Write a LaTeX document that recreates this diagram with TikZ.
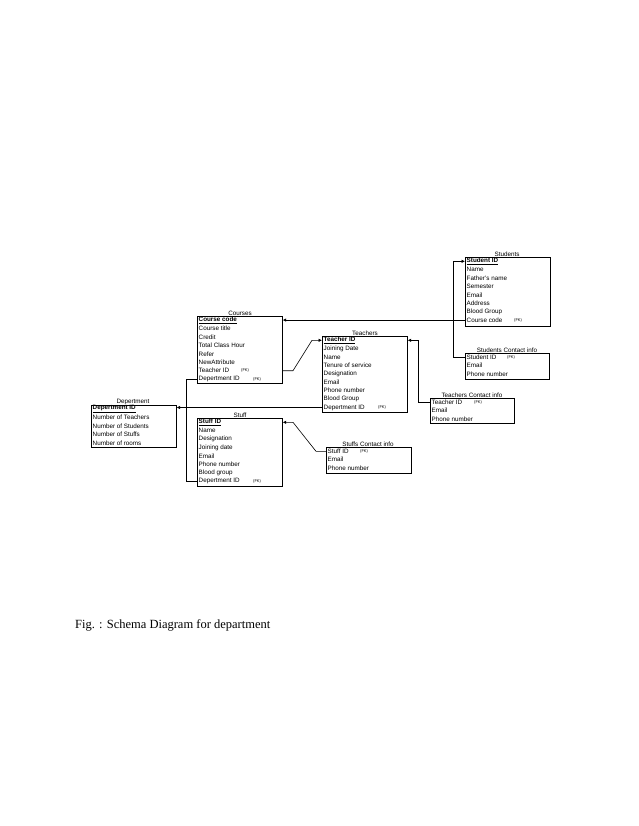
\documentclass[tikz,border=0pt]{standalone}
\usepackage{fontspec}
\setmainfont{Liberation Sans}
\newfontfamily\capfont{Liberation Serif}
\usetikzlibrary{arrows.meta}
\newcommand{\pk}[1]{\textbf{\underline{#1}}}
\tikzset{
  tbl/.style={draw, line width=0.7pt, anchor=north west, inner sep=0pt},
  ttl/.style={font=\fontsize{6.3}{7}\selectfont, anchor=south, inner sep=0.5pt},
  rw/.style={font=\fontsize{6.3}{7}\selectfont, anchor=west, inner sep=0pt},
  fk/.style={font=\fontsize{4}{4}\selectfont, anchor=west, inner sep=0pt},
  conn/.style={line width=0.6pt},
  arr/.style={conn, -{Latex[length=3.5pt,width=3.5pt]}},
}
\begin{document}
\begin{tikzpicture}[x=1pt,y=-1pt]
\useasboundingbox (0,0) rectangle (638,826);
% Students
\node[tbl, minimum width=85, minimum height=69] (S) at (465,257) {};
\node[ttl] (St) at (507,257.5) {Students};
\foreach \t [count=\i] in {\pk{Student ID},Name,Father's name,Semester,Email,Address,Blood Group,Course code}
  \node[rw] (S-\i) at (466.5,{257+4.3+8.4*(\i-1)}) {\t};
\node[fk] (S-fk) at (514,0 |- S-8) {(FK)};
% Students contact
\node[tbl, minimum width=84, minimum height=26] (SC) at (465,353) {};
\node[ttl] (SCt) at (507,353.5) {Students Contact info};
\foreach \t [count=\i] in {Student ID,Email,Phone number}
  \node[rw] (SC-\i) at (466.5,{353+4.3+8.4*(\i-1)}) {\t};
\node[fk] (SC-fk) at (507,0 |- SC-1) {(FK)};
% Courses
\node[tbl, minimum width=85, minimum height=67] (C) at (197,316) {};
\node[ttl] (Ct) at (240,316.5) {Courses};
\foreach \t [count=\i] in {\pk{Course code},Course title,Credit,Total Class Hour,Refer,NewAttribute,Teacher ID,Depertment ID}
  \node[rw] (C-\i) at (198.5,{316+4.3+8.4*(\i-1)}) {\t};
\node[fk] (C-fk1) at (241,0 |- C-7) {(FK)};
\node[fk] (C-fk2) at (253,0 |- C-8) {(FK)};
% Teachers
\node[tbl, minimum width=85, minimum height=76] (T) at (322,336) {};
\node[ttl] (Tt) at (365,336.5) {Teachers};
\foreach \t [count=\i] in {\pk{Teacher ID},Joining Date,Name,Tenure of service,Designation,Email,Phone number,Blood Group,Depertment ID}
  \node[rw] (T-\i) at (323.5,{336+4.3+8.4*(\i-1)}) {\t};
\node[fk] (T-fk) at (378,0 |- T-9) {(FK)};
% Teachers contact
\node[tbl, minimum width=84, minimum height=25] (TC) at (430,398) {};
\node[ttl] (TCt) at (472,398.5) {Teachers Contact info};
\foreach \t [count=\i] in {Teacher ID,Email,Phone number}
  \node[rw] (TC-\i) at (431.5,{398+4.3+8.4*(\i-1)}) {\t};
\node[fk] (TC-fk) at (474,0 |- TC-1) {(FK)};
% Department
\node[tbl, minimum width=85, minimum height=42] (D) at (91,405) {};
\node[ttl] (Dt) at (133,405.5) {Depertment};
\foreach \t [count=\i] in {\pk{Depertment ID},Number of Teachers,Number of Students,Number of Stuffs,Number of rooms}
  \node[rw] (D-\i) at (92.5,{405+4.3+8.4*(\i-1)}) {\t};
% Stuff
\node[tbl, minimum width=85, minimum height=68] (F) at (197,418) {};
\node[ttl] (Ft) at (240,418.5) {Stuff};
\foreach \t [count=\i] in {\pk{Stuff ID},Name,Designation,Joining date,Email,Phone number,Blood group,Depertment ID}
  \node[rw] (F-\i) at (198.5,{418+4.3+8.4*(\i-1)}) {\t};
\node[fk] (F-fk) at (253,0 |- F-8) {(FK)};
% Stuffs contact
\node[tbl, minimum width=85, minimum height=26] (FC) at (326,447) {};
\node[ttl] (FCt) at (368,447.5) {Stuffs Contact info};
\foreach \t [count=\i] in {Stuff ID,Email,Phone number}
  \node[rw] (FC-\i) at (327.5,{447+4.3+8.4*(\i-1)}) {\t};
\node[fk] (FC-fk) at (360,0 |- FC-1) {(FK)};
% connectors
\draw[arr] (S.west |- S-8) -- (C.east |- S-8);
\draw[arr] (SC.west |- SC-1) -- (453,0 |- SC-1) -- (453,0 |- S-1) -- (S.west |- S-1);
\draw[arr] (C.east |- C-7) -- (293,0 |- C-7) -- (312,0 |- T-1) -- (T.west |- T-1);
\draw[arr] (TC.west |- TC-1) -- (418,0 |- TC-1) -- (418,0 |- T-1) -- (T.east |- T-1);
\draw[arr] (T.west |- T-9) -- (D.east |- T-9);
\draw[conn] (C.west |- C-8) -- (186,0 |- C-8) -- (186,0 |- F-8) -- (F.west |- F-8);
\draw[arr] (FC.west |- FC-1) -- (316,0 |- FC-1) -- (293,0 |- F-1) -- (F.east |- F-1);
% caption
\node[anchor=west, font=\capfont\fontsize{12.5}{14}\selectfont, inner sep=0pt] (cap) at (75,625) {Fig. : Schema Diagram for department};
\end{tikzpicture}
\end{document}
